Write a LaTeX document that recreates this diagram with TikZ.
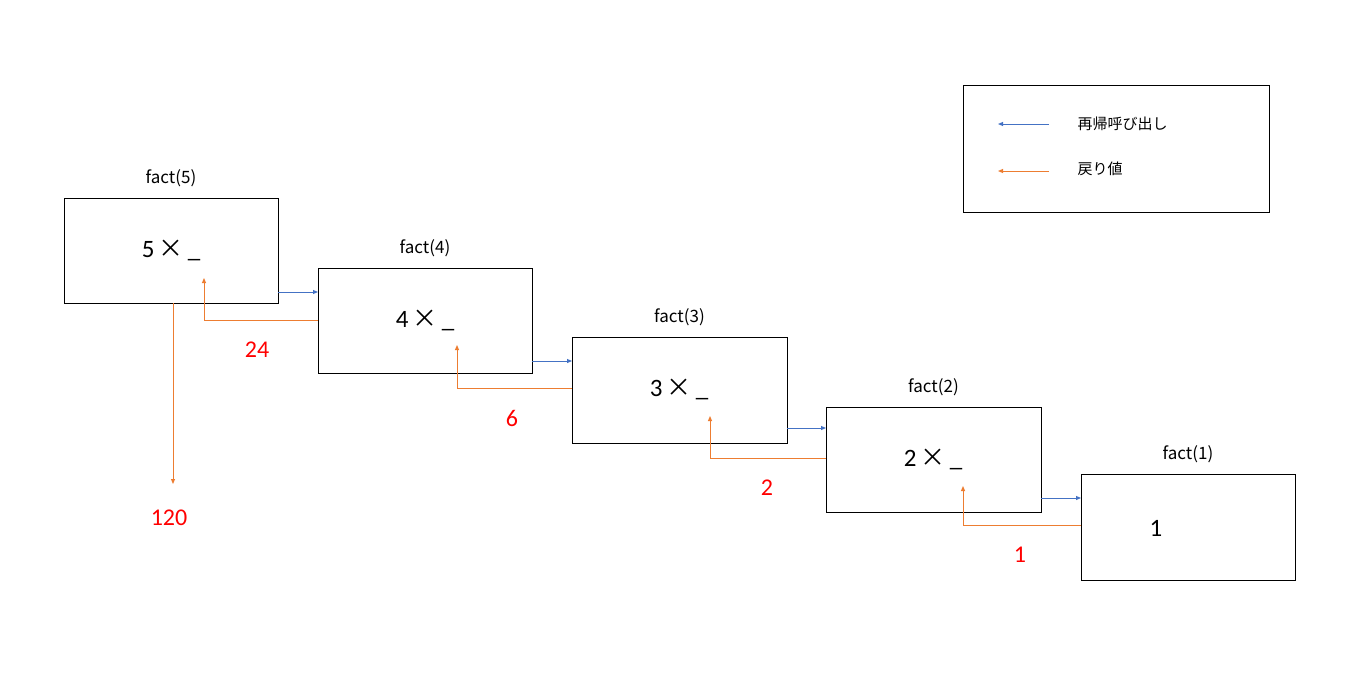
\documentclass[tikz,border=0pt]{standalone}
\usepackage{fontspec}
\setmainfont{Carlito}
\newfontfamily\cjk{Noto Sans CJK JP}
\usetikzlibrary{arrows.meta}
\definecolor{cblue}{HTML}{4472C4}
\definecolor{corange}{HTML}{ED7D31}
\begin{document}
\begin{tikzpicture}[x=1pt,y=-1pt,
  box/.style={draw,line width=0.8pt},
  ttl/.style={font=\cjk\fontsize{17}{17}\selectfont},
  cnt/.style={font=\fontsize{25}{25}\selectfont},
  num/.style={text=red,font=\fontsize{24}{24}\selectfont},
  call/.style={cblue,line width=1pt,-{Triangle[length=5pt,width=4pt]}},
  ret/.style={corange,line width=1pt,-{Triangle[length=5pt,width=4pt]}},
  leg/.style={font=\cjk\fontsize{15}{15}\selectfont,anchor=west}]
\useasboundingbox (0,0) rectangle (1361,680);
\fill[white] (0,0) rectangle (1361,680);
\foreach \n/\l/\t/\r/\b/\tx in {5/64/198/278/303/5,4/318/268/532/373/4,3/572/337/787/443/3,2/826/407/1041/512/2,1/1081/474/1295/580/1}{
  \draw[box] (\l,\t) rectangle (\r,\b);
  \coordinate (b\n) at (\l,\t);
  \node[ttl] (t\n) at ({(\l+\r)/2},\t-20) {fact(\tx)};
}
\node[cnt] (c5) at (171,250) {5\,{\cjk ×}\,\_};
\node[cnt] (c4) at (425,320) {4\,{\cjk ×}\,\_};
\node[cnt] (c3) at (679,389) {3\,{\cjk ×}\,\_};
\node[cnt] (c2) at (933,459) {2\,{\cjk ×}\,\_};
\node[cnt] (c1) at (1156,528) {1};
\coordinate (r5) at (278,292); \coordinate (l4) at (318,292);
\coordinate (r4) at (532,361); \coordinate (l3) at (572,361);
\coordinate (r3) at (787,428); \coordinate (l2) at (826,428);
\coordinate (r2) at (1041,498); \coordinate (l1) at (1081,498);
\draw[call] (r5) -- (l4);
\draw[call] (r4) -- (l3);
\draw[call] (r3) -- (l2);
\draw[call] (r2) -- (l1);
\coordinate (o4) at (318,320); \coordinate (u5) at (204,278);
\coordinate (o3) at (572,388); \coordinate (u4) at (457,345);
\coordinate (o2) at (826,458); \coordinate (u3) at (710,416);
\coordinate (o1) at (1081,525); \coordinate (u2) at (963,486);
\draw[ret] (o4) -| (u5);
\draw[ret] (o3) -| (u4);
\draw[ret] (o2) -| (u3);
\draw[ret] (o1) -| (u2);
\coordinate (s5) at (173,303); \coordinate (e5) at (173,484);
\draw[ret] (s5) -- (e5);
\node[num] (n24) at (257,350) {24};
\node[num] (n6) at (512,418) {6};
\node[num] (n2) at (767,488) {2};
\node[num] (n1) at (1020,555) {1};
\node[num] (n120) at (169,518) {120};
\draw[line width=0.8pt] (963,85) rectangle (1269,212);
\coordinate (la1) at (1049,124); \coordinate (lb1) at (998,124);
\coordinate (la2) at (1049,171); \coordinate (lb2) at (998,171);
\draw[call] (la1) -- (lb1);
\draw[ret] (la2) -- (lb2);
\node[leg] (lg1) at (1074,124) {再帰呼び出し};
\node[leg] (lg2) at (1074,169) {戻り値};
\end{tikzpicture}
\end{document}
